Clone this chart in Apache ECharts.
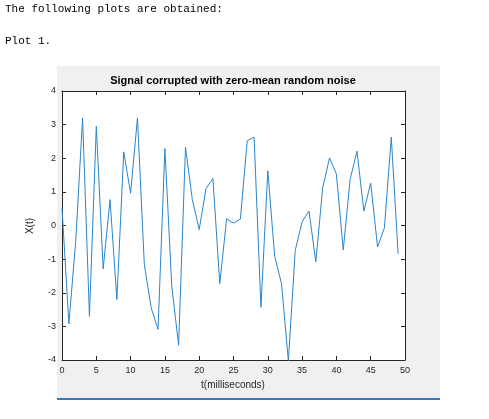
<!DOCTYPE html>
<html><head><meta charset="utf-8">
<script src="https://cdn.jsdelivr.net/npm/echarts@6/dist/echarts.min.js"></script>
<style>html,body{margin:0;padding:0;background:#fff}#c{width:489px;height:419px}</style>
</head><body><div id="c"></div>
<script>
const tValues = [0,1,2,3,4,5,6,7,8,9,10,11,12,13,14,15,16,17,18,19,20,21,22,23,24,25,26,27,28,29,30,31,32,33,34,35,36,37,38,39,40,41,42,43,44,45,46,47,48,49];
const xValues = [0.52,-2.92,-0.47,3.2,-2.7,2.95,-1.29,0.77,-2.2,2.19,0.96,3.2,-1.16,-2.45,-3.09,2.29,-1.8,-3.56,2.33,0.77,-0.12,1.1,1.4,-1.73,0.2,0.07,0.19,2.52,2.63,-2.43,1.63,-0.91,-1.73,-4.03,-0.74,0.11,0.43,-1.08,1.12,2.01,1.53,-0.73,1.37,2.21,0.43,1.26,-0.64,-0.07,2.63,-0.84];
const xTicks = [0,5,10,15,20,25,30,35,40,45,50];
const yTicks = [-4,-3,-2,-1,0,1,2,3,4];
const chart = echarts.init(document.getElementById('c'));
const tickLbl = {fontSize:9,color:'#262626',fontFamily:'Liberation Sans'};
const axisCommon = {axisLine:{show:true,onZero:false,lineStyle:{color:'#262626',width:1}},axisTick:{show:true,inside:true,length:4,lineStyle:{color:'#262626'}},splitLine:{show:false}};
chart.setOption({
  animation:false,
  graphic:[
    {type:'rect',shape:{x:57,y:66,width:383,height:334},style:{fill:'#f0f0f0'},z:-10},
    {type:'rect',shape:{x:57,y:398,width:383,height:2},style:{fill:'#3a78c0'},z:-9},
    {type:'rect',shape:{x:62,y:91,width:343,height:269},style:{fill:'#fff'},z:-8},
    {type:'text',left:5,top:4,style:{text:'The following plots are obtained:',font:'11px "Liberation Mono"',fill:'#000'}},
    {type:'text',left:5,top:36,style:{text:'Plot 1.',font:'11px "Liberation Mono"',fill:'#000'}},
    {type:'text',x:233,y:75,style:{text:'Signal corrupted with zero-mean random noise',font:'bold 11px "Liberation Sans"',fill:'#000',align:'center'}},
    {type:'text',x:233,y:380,style:{text:'t(milliseconds)',font:'10px "Liberation Sans"',fill:'#262626',align:'center'}},
    {type:'text',x:30,y:226,rotation:Math.PI/2,style:{text:'X(t)',font:'10px "Liberation Sans"',fill:'#262626',align:'center',verticalAlign:'middle'}}
  ],
  grid:{left:62,right:84,top:91,bottom:59,show:false},
  xAxis:[
    Object.assign({type:'value',min:0,max:50,interval:5,axisLabel:Object.assign({margin:6,formatter:v=>xTicks.includes(v)?String(v):''},tickLbl)},axisCommon),
    Object.assign({type:'value',position:'top',min:0,max:50,interval:5,axisLabel:{show:false}},axisCommon)
  ],
  yAxis:[
    Object.assign({type:'value',min:-4,max:4,interval:1,axisLabel:Object.assign({margin:6,formatter:v=>yTicks.includes(v)?String(v):''},tickLbl)},axisCommon),
    Object.assign({type:'value',position:'right',min:-4,max:4,interval:1,axisLabel:{show:false}},axisCommon)
  ],
  series:[{type:'line',data:tValues.map((t,i)=>[t,xValues[i]]),showSymbol:false,lineStyle:{color:'#2a85cc',width:1},z:5}]
});
</script></body></html>
